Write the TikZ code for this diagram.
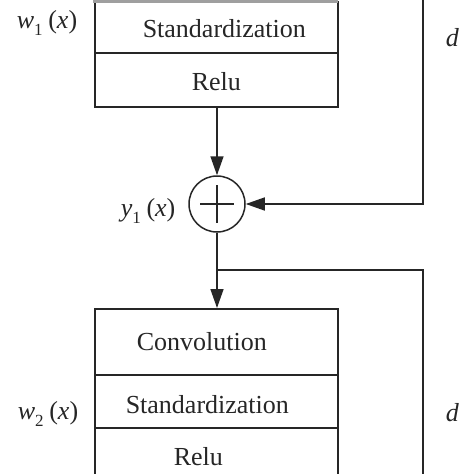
\documentclass[tikz,border=0pt]{standalone}
\usepackage{fontspec}
\setmainfont{Liberation Serif}
\usetikzlibrary{arrows.meta}
\newcommand{\lblfn}[2]{{\itshape #1}\raisebox{-0.3em}{\fontsize{17}{20}\selectfont #2}\hspace{0.22em}({\itshape x})}
\begin{document}
\begin{tikzpicture}[x=1pt,y=-1pt,line width=1.5pt,
  blk/.style={draw=black!85,minimum width=243pt,inner sep=0pt,anchor=north west},
  txt/.style={font=\fontsize{26}{30}\selectfont,inner sep=0pt,anchor=base west,text=black!85},
  arr/.style={draw=black!85,-{Triangle[length=19pt,width=13pt]}},
  ln/.style={draw=black!85}]
\clip (0,0) rectangle (474,474);
\fill[white] (0,0) rectangle (474,474);
% first block
\node[blk,minimum height=51pt] (s1) at (94,1) {};
\node[blk,minimum height=54pt] (r1) at (94,52) {};
\fill[gray!75] (93.3,0) rectangle (337.7,2.7);
\node[txt] (ts1) at (142,37) {Standardization};
\node[txt] (tr1) at (191,90) {Relu};
\node[txt] (w1) at (16,28) {\lblfn{w}{1}};
\node[txt,font=\fontsize{26}{30}\selectfont\itshape] (d1) at (445,46) {d};
% adder
\node[circle,draw=black!85,minimum size=56pt,inner sep=0pt] (add) at (217,204) {};
\draw[ln] ([xshift=-17pt]add.center) -- ([xshift=17pt]add.center);
\draw[ln] ([yshift=19pt]add.center) -- ([yshift=-19pt]add.center);
\node[txt] (y1) at (120,216) {\lblfn{y}{1}};
\coordinate (tr) at (423,-2);
\draw[arr] (r1.south -| add.south) -- (add.north);
\draw[arr] (tr) |- (add.east);
% second block
\node[blk,minimum height=66pt] (c2) at (94,308) {};
\node[blk,minimum height=53pt] (s2) at (94,374) {};
\node[blk,minimum height=62pt] (r2) at (94,427) {};
\node[txt] (tc2) at (136,350) {Convolution};
\node[txt] (ts2) at (125,413) {Standardization};
\node[txt] (tr2) at (173,465) {Relu};
\node[txt] (w2) at (17,419) {\lblfn{w}{2}};
\node[txt,font=\fontsize{26}{30}\selectfont\itshape] (d2) at (445,421) {d};
\coordinate (j) at (217,270);
\coordinate (br) at (423,480);
\draw[arr] (add.south) -- (add.south |- c2.north);
\draw[ln] (j) -| (br);
\end{tikzpicture}
\end{document}
